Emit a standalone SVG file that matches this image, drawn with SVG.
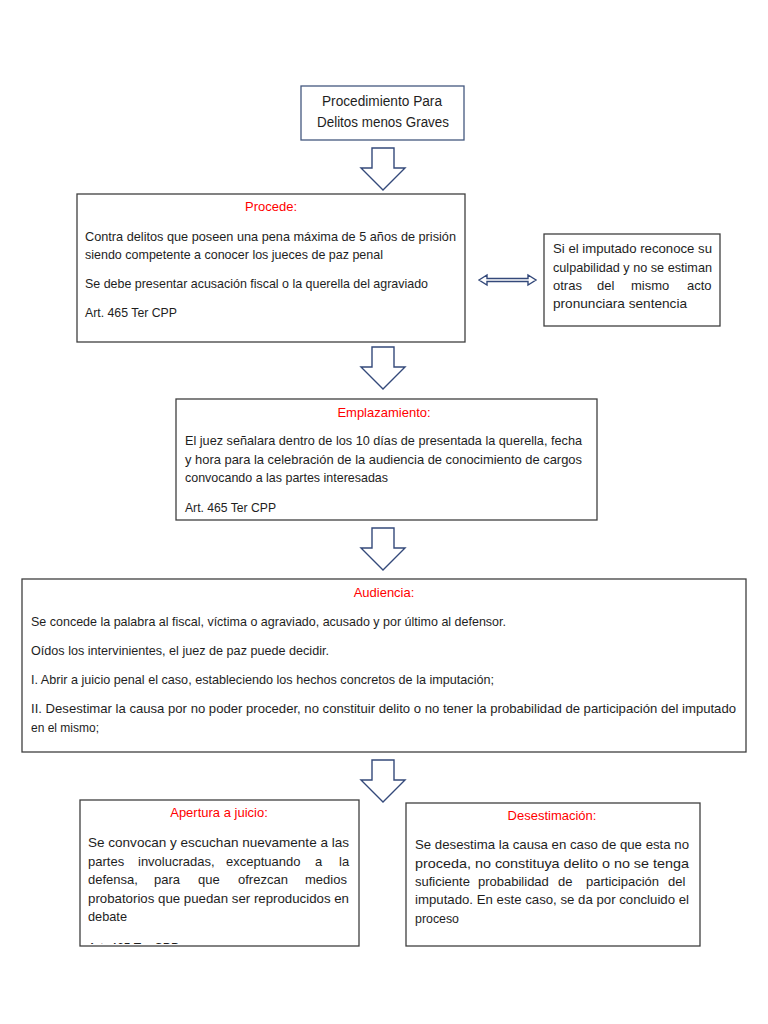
<svg xmlns="http://www.w3.org/2000/svg" width="768" height="1024" viewBox="0 0 768 1024">
<style>
  .box { fill: #ffffff; stroke: #3f3f3f; stroke-width: 1.3; }
  .tbox { fill: #ffffff; stroke: #44587f; stroke-width: 1.3; }
  .t { font-family: "Liberation Sans", Arial, sans-serif; font-size: 13px; fill: #1e1e1e; }
  .tt { font-family: "Liberation Sans", Arial, sans-serif; font-size: 14px; fill: #1e1e1e; }
  .h { font-family: "Liberation Sans", Arial, sans-serif; font-size: 13px; fill: #ff0000; text-anchor: middle; }
  .arr { fill: #ffffff; stroke: #34497a; stroke-width: 1.4; stroke-linejoin: miter; }
</style>
<defs>
  <path id="downArrow" d="M372,0 H394 V20 H405 L383,42 L361,20 H372 Z"/>
  <clipPath id="clipApertura"><rect x="80" y="800" width="279" height="144"/></clipPath>
</defs>
<rect width="768" height="1024" fill="#ffffff"/>

<g id="connectors">
  <use href="#downArrow" class="arr" transform="translate(0,148)"/>
  <use href="#downArrow" class="arr" transform="translate(0,347)"/>
  <use href="#downArrow" class="arr" transform="translate(0,528)"/>
  <use href="#downArrow" class="arr" transform="translate(0,760)"/>
  <path class="arr" stroke-width="1.2" d="M479,280 L487,275 V278.5 H528 V275 L536,280 L528,285 V281.5 H487 V285 Z"/>
</g>

<g id="node-titulo">
  <rect class="tbox" x="301" y="86" width="163" height="54"/>
  <text class="tt" x="322" y="106" textLength="120" lengthAdjust="spacingAndGlyphs">Procedimiento Para</text>
  <text class="tt" x="317" y="127" textLength="132" lengthAdjust="spacingAndGlyphs">Delitos menos Graves</text>
</g>

<g id="node-procede">
  <rect class="box" x="77" y="194" width="388" height="148"/>
  <text class="h" x="271" y="211">Procede:</text>
  <text class="t" x="85" y="241" textLength="371" lengthAdjust="spacingAndGlyphs">Contra delitos que poseen una pena máxima de 5 años de prisión</text>
  <text class="t" x="85" y="259" textLength="298" lengthAdjust="spacingAndGlyphs">siendo competente a conocer los jueces de paz penal</text>
  <text class="t" x="85" y="288" textLength="343" lengthAdjust="spacingAndGlyphs">Se debe presentar acusación fiscal o la querella del agraviado</text>
  <text class="t" x="85" y="317" textLength="92" lengthAdjust="spacingAndGlyphs">Art. 465 Ter CPP</text>
</g>

<g id="node-sentencia">
  <rect class="box" x="544" y="234" width="176" height="92"/>
  <text class="t" x="553" y="253" textLength="159" lengthAdjust="spacingAndGlyphs">Si el imputado reconoce su</text>
  <text class="t" x="553" y="272" textLength="159" lengthAdjust="spacingAndGlyphs">culpabilidad y no se estiman</text>
  <text class="t" y="290"><tspan x="553">otras</tspan><tspan x="597">del</tspan><tspan x="631">mismo</tspan><tspan x="687">acto</tspan></text>
  <text class="t" x="553" y="308" textLength="134" lengthAdjust="spacingAndGlyphs">pronunciara sentencia</text>
</g>

<g id="node-emplazamiento">
  <rect class="box" x="176" y="399" width="421" height="121"/>
  <text class="h" x="384" y="417">Emplazamiento:</text>
  <text class="t" x="185" y="445" textLength="397" lengthAdjust="spacingAndGlyphs">El juez señalara dentro de los 10 días de presentada la querella, fecha</text>
  <text class="t" x="185" y="464" textLength="397" lengthAdjust="spacingAndGlyphs">y hora para la celebración de la audiencia de conocimiento de cargos</text>
  <text class="t" x="185" y="482" textLength="203" lengthAdjust="spacingAndGlyphs">convocando a las partes interesadas</text>
  <text class="t" x="185" y="512" textLength="91" lengthAdjust="spacingAndGlyphs">Art. 465 Ter CPP</text>
</g>

<g id="node-audiencia">
  <rect class="box" x="22" y="579" width="724" height="173"/>
  <text class="h" x="384" y="597">Audiencia:</text>
  <text class="t" x="31" y="626" textLength="475" lengthAdjust="spacingAndGlyphs">Se concede la palabra al fiscal, víctima o agraviado, acusado y por último al defensor.</text>
  <text class="t" x="31" y="655" textLength="298" lengthAdjust="spacingAndGlyphs">Oídos los intervinientes, el juez de paz puede decidir.</text>
  <text class="t" x="31" y="684" textLength="463" lengthAdjust="spacingAndGlyphs">I. Abrir a juicio penal el caso, estableciendo los hechos concretos de la imputación;</text>
  <text class="t" x="31" y="713" textLength="705" lengthAdjust="spacingAndGlyphs">II. Desestimar la causa por no poder proceder, no constituir delito o no tener la probabilidad de participación del imputado</text>
  <text class="t" x="31" y="732" textLength="68" lengthAdjust="spacingAndGlyphs">en el mismo;</text>
</g>

<g id="node-apertura">
  <rect class="box" x="80" y="800" width="279" height="146"/>
  <text class="h" x="219" y="817">Apertura a juicio:</text>
  <text class="t" x="88" y="847" textLength="261" lengthAdjust="spacingAndGlyphs">Se convocan y escuchan nuevamente a las</text>
  <text class="t" y="866"><tspan x="88">partes</tspan><tspan x="138">involucradas,</tspan><tspan x="226">exceptuando</tspan><tspan x="315">a</tspan><tspan x="339">la</tspan></text>
  <text class="t" y="884"><tspan x="88">defensa,</tspan><tspan x="154">para</tspan><tspan x="198">que</tspan><tspan x="238">ofrezcan</tspan><tspan x="305">medios</tspan></text>
  <text class="t" x="88" y="903" textLength="261" lengthAdjust="spacingAndGlyphs">probatorios que puedan ser reproducidos en</text>
  <text class="t" x="88" y="921" textLength="39" lengthAdjust="spacingAndGlyphs">debate</text>
  <text class="t" x="88" y="952" textLength="91" lengthAdjust="spacingAndGlyphs" clip-path="url(#clipApertura)">Art. 465 Ter CPP</text>
</g>

<g id="node-desestimacion">
  <rect class="box" x="406" y="803" width="294" height="143"/>
  <text class="h" x="552" y="820">Desestimación:</text>
  <text class="t" x="415" y="849" textLength="274" lengthAdjust="spacingAndGlyphs">Se desestima la causa en caso de que esta no</text>
  <text class="t" x="415" y="868" textLength="274" lengthAdjust="spacingAndGlyphs">proceda, no constituya delito o no se tenga</text>
  <text class="t" y="886"><tspan x="415">suficiente</tspan><tspan x="478">probabilidad</tspan><tspan x="558">de</tspan><tspan x="586">participación</tspan><tspan x="668">del</tspan></text>
  <text class="t" x="415" y="904" textLength="274" lengthAdjust="spacingAndGlyphs">imputado. En este caso, se da por concluido el</text>
  <text class="t" x="415" y="923" textLength="44" lengthAdjust="spacingAndGlyphs">proceso</text>
</g>
</svg>
